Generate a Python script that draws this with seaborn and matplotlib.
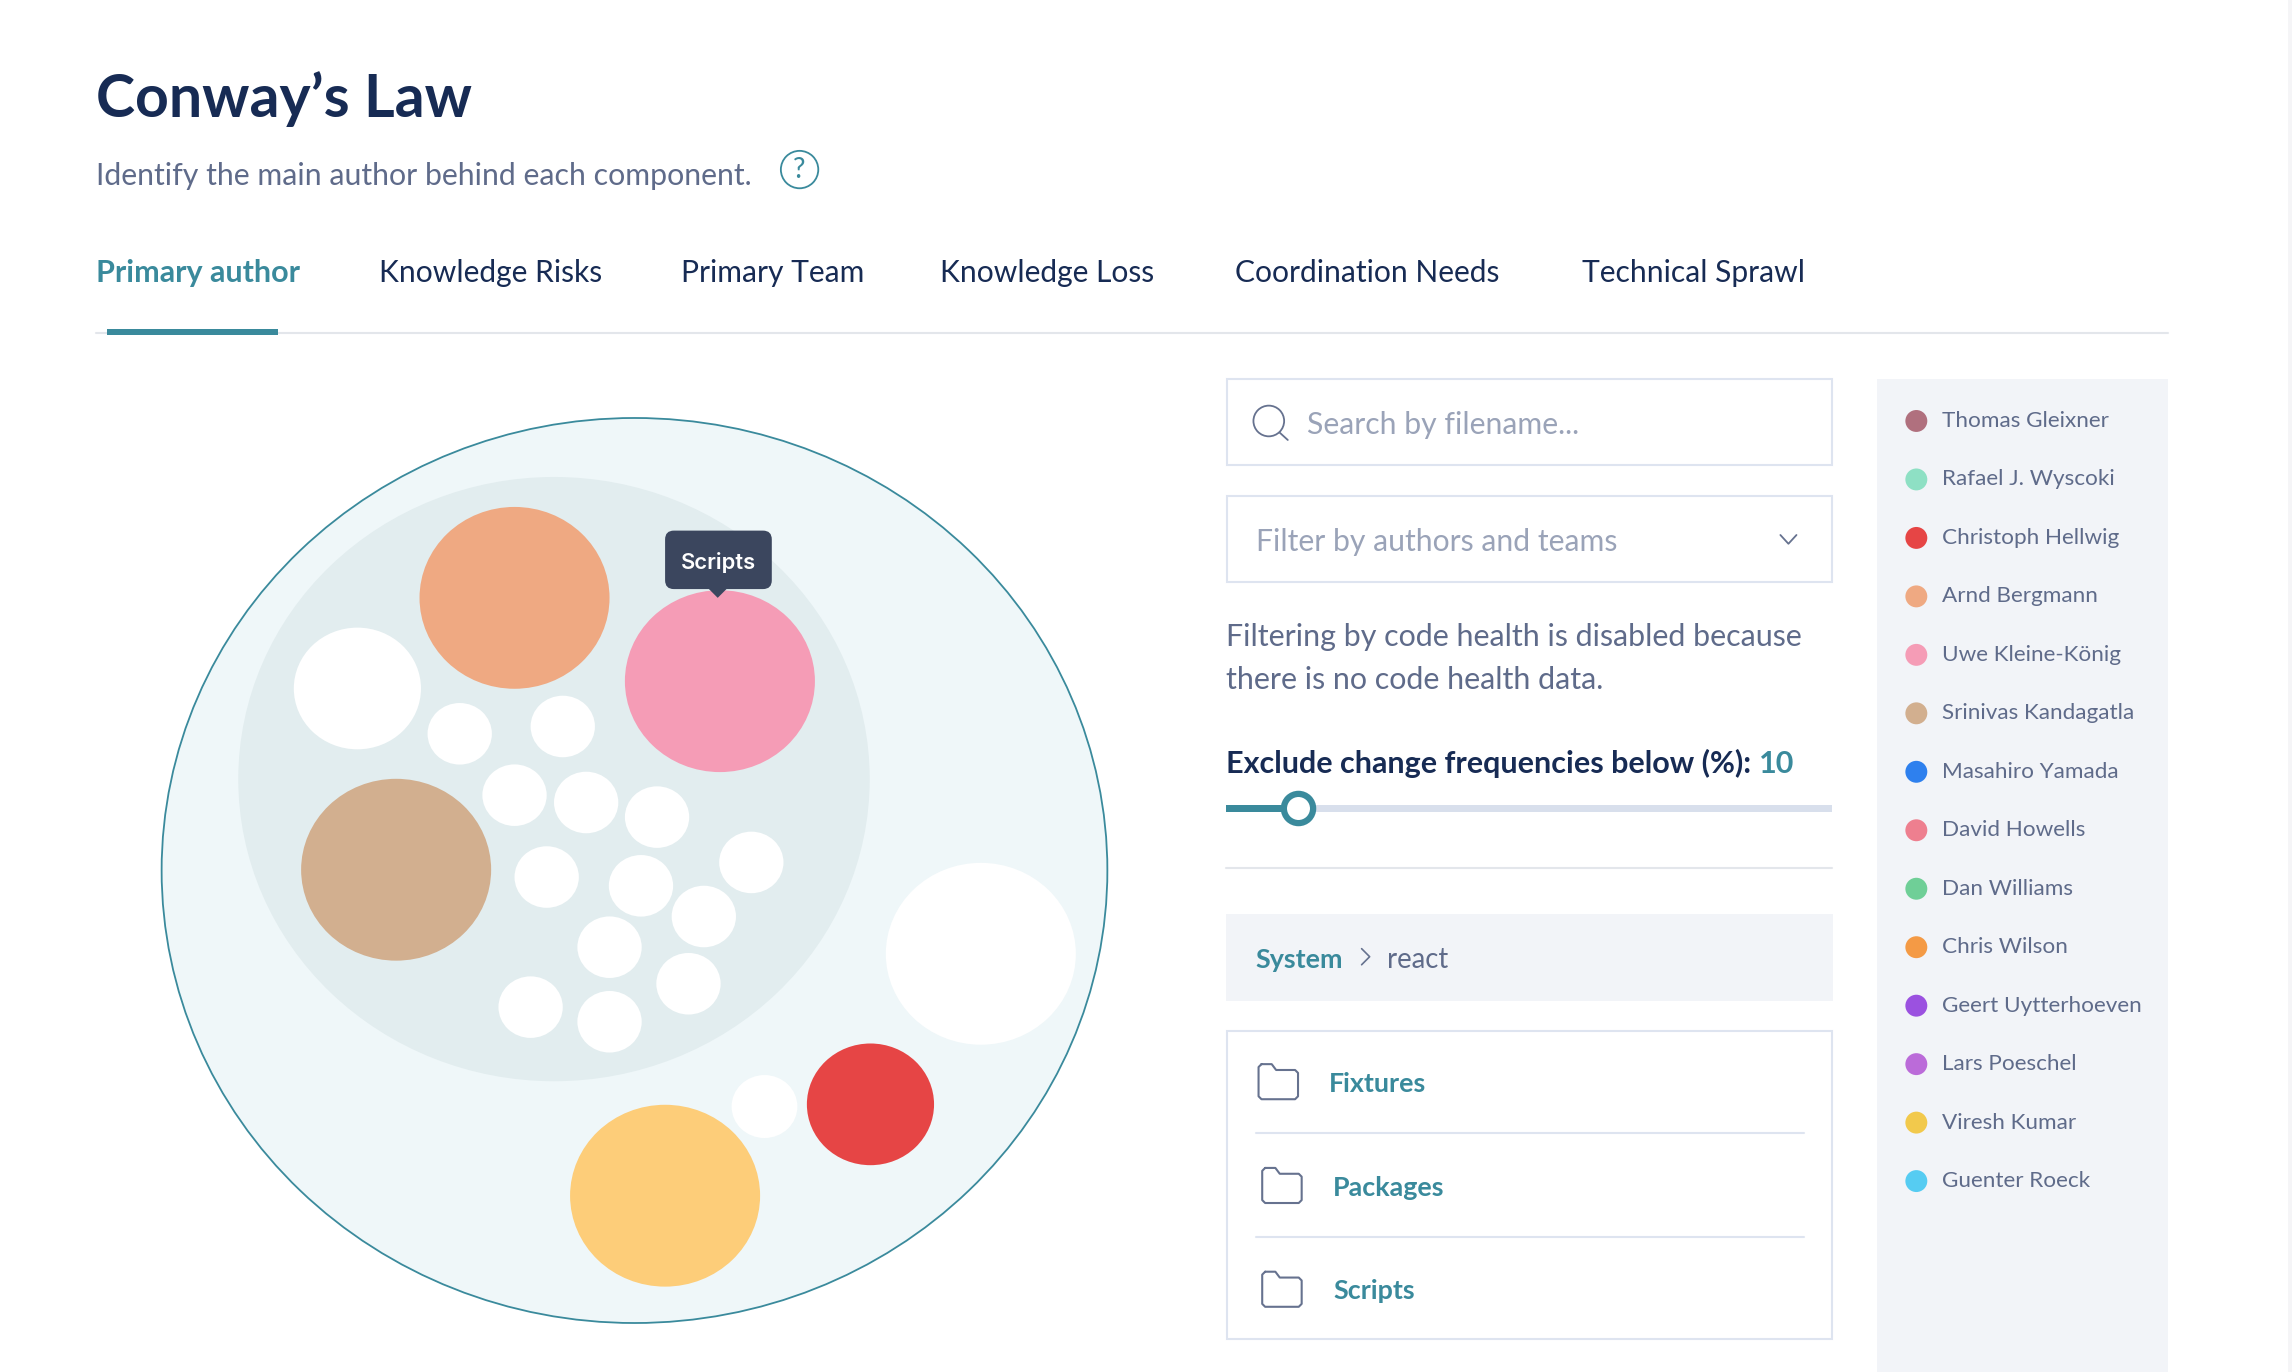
"""plot.py - Conway's Law view: circle packing of components plus the side panels."""

import numpy as np
import pandas as pd
import matplotlib
matplotlib.use("Agg")
import matplotlib.pyplot as plt
from matplotlib.patches import FancyBboxPatch, Polygon, Rectangle, Circle
from matplotlib.path import Path
from matplotlib.transforms import Affine2D
import seaborn as sns

WIDTH, HEIGHT = 2292, 1372
SCALE = WIDTH / 1568
DPI = 100

NAVY = "#172B54"
TEAL = "#3A8A9C"
GREY = "#5F6B8A"
PLACEHOLDER = "#9AA3B8"
BORDER = "#DEE4F0"
PANEL = "#F2F4F8"

# bubbles
bubble_x = [379, 352, 492.5, 271, 244.5, 314.5, 385, 352, 401, 449.5, 514, 374, 438.5, 481.5, 417, 471, 363, 417,
            671, 595.5, 523, 455]
bubble_y = [533, 409, 466, 595, 471, 502, 497, 544, 549, 559, 590, 600, 606, 627, 648, 673, 689, 699,
            652.5, 755.5, 757, 818]
bubble_w = [432, 130, 130, 130, 87, 44, 44, 44, 44, 44, 44, 44, 44, 44, 44, 44, 44, 44,
            130, 87, 45, 130]
bubble_color = ["#E2EDEF", "#EFA982", "#F59CB6", "#D2AF8F", "#FFFFFF", "#FFFFFF", "#FFFFFF", "#FFFFFF",
                "#FFFFFF", "#FFFFFF", "#FFFFFF", "#FFFFFF", "#FFFFFF", "#FFFFFF", "#FFFFFF", "#FFFFFF",
                "#FFFFFF", "#FFFFFF", "#FFFFFF", "#E64545", "#FFFFFF", "#FDCD79"]

authors = ["Thomas Gleixner", "Rafael J. Wyscoki", "Christoph Hellwig", "Arnd Bergmann", "Uwe Kleine-König",
           "Srinivas Kandagatla", "Masahiro Yamada", "David Howells", "Dan Williams", "Chris Wilson",
           "Geert Uytterhoeven", "Lars Poeschel", "Viresh Kumar", "Guenter Roeck"]
author_colors = ["#B0707E", "#8EE0C4", "#E64545", "#EFA982", "#F59CB6", "#D2AF8F", "#2E80EE", "#EE7F8F",
                 "#6FCF97", "#F49A45", "#9B51E0", "#BB6BD9", "#F2C94C", "#56CCF2"]

tabs = ["Primary author", "Knowledge Risks", "Primary Team", "Knowledge Loss", "Coordination Needs",
        "Technical Sprawl"]
tab_x = [66, 259, 466, 643, 845, 1082]

folders = ["Fixtures", "Packages", "Scripts"]


def marker_area(w):
    # scatter sizes are squared points, w is in reference units
    return (w * SCALE * 72 / DPI) ** 2


def box(ax, x0, y0, x1, y1, face="white", edge=BORDER, lw=1.5, z=1):
    ax.add_patch(Rectangle((x0, y0), x1 - x0, y1 - y0, facecolor=face, edgecolor=edge, linewidth=lw, zorder=z))


def label(ax, x, y, s, size=16, color=GREY, weight="normal", ha="left", family="Lato"):
    ax.text(x, y, s, fontsize=size, color=color, fontweight=weight, ha=ha, va="center",
            family=family, zorder=6)


def folder_icon(ax, x, y):
    xs = [x + 2, x + 9, x + 12, x + 25, x + 27, x + 27, x + 25, x + 2, x, x, x + 2]
    ys = [y, y, y + 4, y + 4, y + 6, y + 22, y + 24, y + 24, y + 22, y + 2, y]
    ax.plot(xs, ys, color="#66728F", lw=1.5, zorder=5, solid_joinstyle="round")


sns.set_theme(style="white")
fig = plt.figure(figsize=(WIDTH / DPI, HEIGHT / DPI), dpi=DPI)
ax = fig.add_axes([0, 0, 1, 1])

# chart circles are slightly wider than tall in the reference
unit = Path.unit_circle()
ellipse = Path(Affine2D().scale(1, 1 / 1.045).transform(unit.vertices), unit.codes)

sns.scatterplot(x=[433.5], y=[595], s=marker_area(647), marker=ellipse, color="#EFF7F9",
                edgecolor=TEAL, linewidth=1.3, legend=False, ax=ax, zorder=2)

df = pd.DataFrame({"x": bubble_x, "y": bubble_y, "w": bubble_w, "color": bubble_color})
sns.scatterplot(
    data=df, x="x", y="y", hue="color", size="w",
    palette={c: c for c in set(bubble_color)},
    sizes={w: marker_area(w) for w in set(bubble_w)},
    marker=ellipse, linewidth=0, edgecolor="none", legend=False, ax=ax, zorder=3,
)

# tooltip
ax.add_patch(FancyBboxPatch((460, 368), 63, 30, boxstyle="round,pad=5,rounding_size=6", linewidth=0,
                            facecolor="#3B465E", zorder=4))
ax.add_patch(Polygon([[484, 402], [498, 402], [491, 409]], facecolor="#3B465E", linewidth=0, zorder=4))
label(ax, 491.5, 384.5, "Scripts", size=15.8, color="white", weight="semibold", ha="center", family="Inter")

# header
label(ax, 66, 68, "Conway’s Law", size=42.5, color=NAVY, weight="bold")
label(ax, 66, 120.5, "Identify the main author behind each component.", size=21.8)
ax.add_patch(Circle((547, 116), 12.8, facecolor="white", edgecolor=TEAL, linewidth=1.3, zorder=5))
label(ax, 547, 116, "?", size=20, color=TEAL, ha="center")

for name, x in zip(tabs, tab_x):
    active = name == tabs[0]
    label(ax, x, 186.5, name, size=22 if active else 21.6, color=TEAL if active else NAVY,
          weight="bold" if active else "normal")
ax.plot([66, 1483], [228, 228], color="#E3E6EB", lw=1.5, zorder=2)
box(ax, 73, 225, 190, 229, face=TEAL, edge="none", z=3)

# search + filter
box(ax, 839.5, 259, 1253.5, 318)
ax.add_patch(Circle((868, 288), 10.5, facecolor="none", edgecolor="#66728F", linewidth=1.3, zorder=5))
ax.plot([875.5, 881], [296, 301], color="#66728F", lw=1.3, zorder=5)
label(ax, 894, 290.5, "Search by filename...", size=21.7, color=PLACEHOLDER)
box(ax, 839.5, 339, 1253.5, 398)
label(ax, 859, 370.5, "Filter by authors and teams", size=21.7, color=PLACEHOLDER)
ax.plot([1218, 1223.5, 1229], [366, 372, 366], color="#66728F", lw=1.3, zorder=5)

label(ax, 839, 435.5, "Filtering by code health is disabled because", size=21.9)
label(ax, 839, 465.5, "there is no code health data.", size=21.9)

# slider
label(ax, 839, 522.5, "Exclude change frequencies below (%):", size=22, color=NAVY, weight="bold")
label(ax, 1203, 522.5, "10", size=22, color=TEAL, weight="bold")
box(ax, 839, 550.5, 1253.5, 555.5, face="#D8DFEC", edge="none", z=2)
box(ax, 839, 550.5, 882, 555.5, face=TEAL, edge="none", z=3)
sns.scatterplot(x=[888], y=[553], s=marker_area(20), color="white", edgecolor=TEAL, linewidth=4.5,
                legend=False, ax=ax, zorder=5)
ax.plot([839, 1253.5], [594, 594], color="#E3E6EB", lw=1.5, zorder=2)

# breadcrumb
box(ax, 839, 625, 1254, 685, face=PANEL, edge="none")
label(ax, 859, 656.5, "System", size=19.4, color=TEAL, weight="bold")
ax.plot([931.5, 937, 931.5], [649, 654.5, 660], color="#66728F", lw=1.2, zorder=5)
label(ax, 949, 656.5, "react", size=19.8)

# folder list
box(ax, 839.5, 705.5, 1253.5, 916)
ax.plot([859, 1234], [775, 775], color=BORDER, lw=1.5, zorder=2)
ax.plot([859, 1234], [846, 846], color=BORDER, lw=1.5, zorder=2)
for name, fx, tx, y in zip(folders, [861, 863.5, 863.5], [909, 912, 912], [740, 811, 882]):
    folder_icon(ax, fx, y - 12)
    label(ax, tx, y + 1.5, name, size=19.4, color=TEAL, weight="bold")

# author sidebar
box(ax, 1284, 259, 1483, 945, face=PANEL, edge="none")
box(ax, 1565, -5, 1575, 945, face="#F5F5F7", edge="none")
legend_y = 288 + 40 * np.arange(len(authors))
sns.scatterplot(x=[1311] * len(authors), y=legend_y, hue=authors, palette=dict(zip(authors, author_colors)),
                s=marker_area(15), linewidth=0, edgecolor="none", legend=False, ax=ax, zorder=4)
for name, y in zip(authors, legend_y):
    label(ax, 1328.5, y, name, size=16.2)

ax.set_xlim(0, WIDTH / SCALE)
ax.set_ylim(HEIGHT / SCALE, 0)
ax.set_axis_off()
fig.savefig("out.png", dpi=DPI)
plt.close(fig)
